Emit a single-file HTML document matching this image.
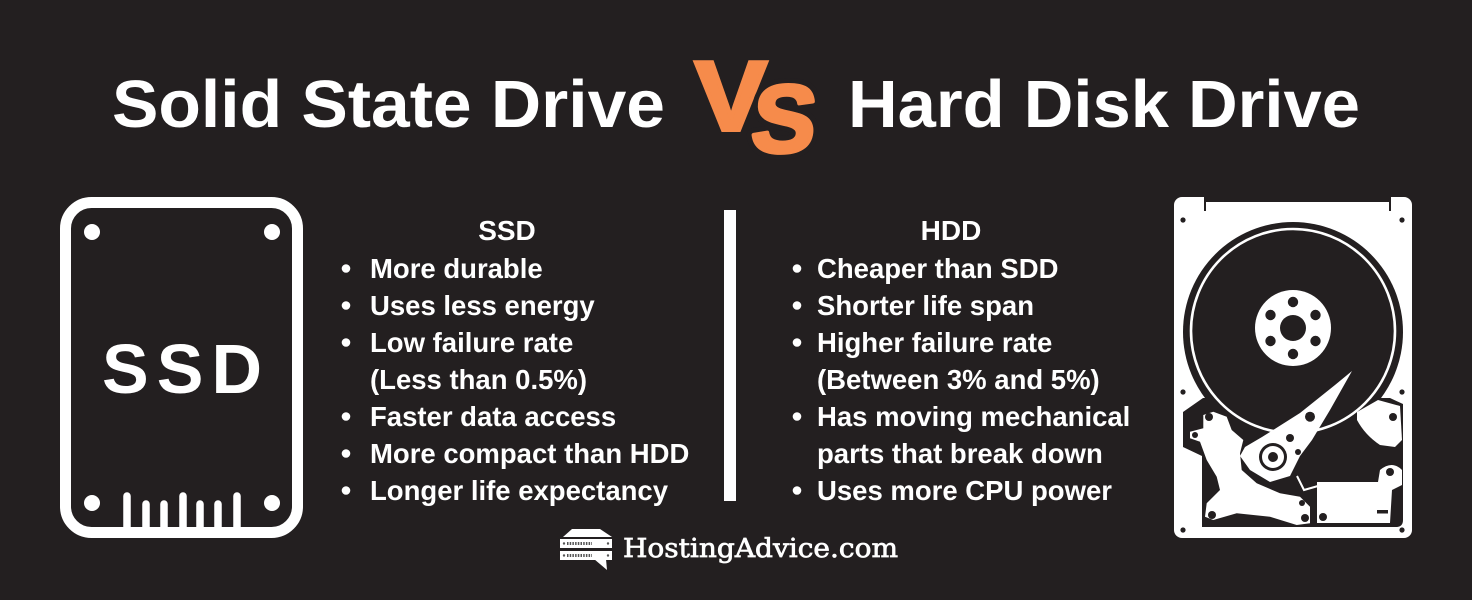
<!DOCTYPE html>
<html>
<head>
<meta charset="utf-8">
<style>
  html,body{margin:0;padding:0;background:#231f20;}
  svg{display:block;}
</style>
</head>
<body>
<svg width="1472" height="600" viewBox="0 0 1472 600" xmlns="http://www.w3.org/2000/svg">
  <rect x="0" y="0" width="1472" height="600" fill="#231f20"/>

  <!-- Title -->
  <text x="112" y="127" font-family="Liberation Sans, sans-serif" font-weight="bold" font-size="67" fill="#ffffff" textLength="553" lengthAdjust="spacingAndGlyphs">Solid State Drive</text>
  <text x="848" y="127" font-family="Liberation Sans, sans-serif" font-weight="bold" font-size="67" fill="#ffffff" textLength="512" lengthAdjust="spacingAndGlyphs">Hard Disk Drive</text>

  <!-- VS -->
  <g font-family="Liberation Sans, sans-serif" font-weight="bold">
    <text x="0" y="0" font-size="98" fill="#f68b4b" stroke="#f68b4b" stroke-width="4" transform="translate(695,130) scale(1.1,1)">V</text>
    <text x="0" y="0" font-size="96" fill="#231f20" stroke="#231f20" stroke-width="14" stroke-linejoin="round" transform="translate(749,152) skewX(-6)">S</text>
    <text x="0" y="0" font-size="96" fill="#f68b4b" stroke="#f68b4b" stroke-width="4" stroke-linejoin="round" transform="translate(749,152) skewX(-6)">S</text>
  </g>

  <!-- SSD icon -->
  <rect x="65.5" y="202.5" width="232" height="330" rx="26" ry="26" fill="none" stroke="#ffffff" stroke-width="11"/>
  <circle cx="92" cy="232" r="8" fill="#ffffff"/>
  <circle cx="272" cy="232" r="8" fill="#ffffff"/>
  <circle cx="92" cy="503" r="8" fill="#ffffff"/>
  <circle cx="272" cy="503" r="8" fill="#ffffff"/>
  <g stroke="#ffffff" stroke-width="7.5" stroke-linecap="round">
    <line x1="127" y1="496" x2="127" y2="530"/>
    <line x1="146" y1="504" x2="146" y2="530"/>
    <line x1="164" y1="504" x2="164" y2="530"/>
    <line x1="183" y1="496" x2="183" y2="530"/>
    <line x1="200" y1="504" x2="200" y2="530"/>
    <line x1="218" y1="504" x2="218" y2="530"/>
    <line x1="237" y1="496" x2="237" y2="530"/>
  </g>
  <text x="102" y="393" font-family="Liberation Sans, sans-serif" font-weight="bold" font-size="70" fill="#ffffff" textLength="160" lengthAdjust="spacing">SSD</text>

  <!-- Divider -->
  <rect x="724" y="210" width="12" height="291" fill="#ffffff"/>

  <!-- SSD list -->
  <g font-family="Liberation Sans, sans-serif" font-weight="bold" fill="#ffffff">
    <text x="507" y="240" font-size="28" text-anchor="middle">SSD</text>
    <g font-size="27.5">
      <text x="370" y="278">More durable</text>
      <text x="370" y="315">Uses less energy</text>
      <text x="370" y="352">Low failure rate</text>
      <text x="370" y="389">(Less than 0.5%)</text>
      <text x="370" y="426">Faster data access</text>
      <text x="370" y="463">More compact than HDD</text>
      <text x="370" y="500">Longer life expectancy</text>
    </g>
    <circle cx="346" cy="268.5" r="4.3"/>
    <circle cx="346" cy="305.5" r="4.3"/>
    <circle cx="346" cy="342.5" r="4.3"/>
    <circle cx="346" cy="416.5" r="4.3"/>
    <circle cx="346" cy="453.5" r="4.3"/>
    <circle cx="346" cy="490.5" r="4.3"/>
  </g>

  <!-- HDD list -->
  <g font-family="Liberation Sans, sans-serif" font-weight="bold" fill="#ffffff">
    <text x="951" y="240" font-size="28" text-anchor="middle">HDD</text>
    <g font-size="27.5">
      <text x="817" y="278">Cheaper than SDD</text>
      <text x="817" y="315">Shorter life span</text>
      <text x="817" y="352">Higher failure rate</text>
      <text x="817" y="389">(Between 3% and 5%)</text>
      <text x="817" y="426">Has moving mechanical</text>
      <text x="817" y="463">parts that break down</text>
      <text x="817" y="500">Uses more CPU power</text>
    </g>
    <circle cx="797" cy="268.5" r="4.3"/>
    <circle cx="797" cy="305.5" r="4.3"/>
    <circle cx="797" cy="342.5" r="4.3"/>
    <circle cx="797" cy="416.5" r="4.3"/>
    <circle cx="797" cy="490.5" r="4.3"/>
  </g>

  <!-- HDD icon -->
  <rect x="1174" y="197" width="238" height="341" rx="8" ry="8" fill="#ffffff"/>
  <rect x="1206" y="197" width="183" height="5" fill="#231f20"/>
  <rect x="1204" y="197" width="2" height="14" fill="#231f20"/>
  <rect x="1389" y="197" width="2" height="14" fill="#231f20"/>
  <g fill="#231f20">
    <circle cx="1183" cy="220" r="2.6"/>
    <circle cx="1402" cy="220" r="2.6"/>
    <circle cx="1183" cy="392" r="2.6"/>
    <circle cx="1402" cy="392" r="2.6"/>
    <circle cx="1183" cy="530" r="2.6"/>
    <circle cx="1402" cy="530" r="2.6"/>
    <circle cx="1293" cy="332" r="110"/>
    <path d="M1183,412 L1203,398 L1390,398 L1403,404 L1403,520 Q1403,527 1396,527 L1202,527 L1202,456 L1183,447 Z"/>
  </g>
  <circle cx="1293" cy="331" r="102" fill="none" stroke="#ffffff" stroke-width="2.6"/>
  <circle cx="1293" cy="328" r="38" fill="#ffffff"/>
  <g fill="#231f20">
    <circle cx="1293" cy="328" r="13"/>
    <circle cx="1293" cy="302" r="5.2"/>
    <circle cx="1315.5" cy="315" r="5.2"/>
    <circle cx="1315.5" cy="341" r="5.2"/>
    <circle cx="1293" cy="354" r="5.2"/>
    <circle cx="1270.5" cy="341" r="5.2"/>
    <circle cx="1270.5" cy="315" r="5.2"/>
  </g>
  <!-- left blob -->
  <path fill="#ffffff" d="M1190,431.7 L1203.3,428.3 L1203.3,415 L1213.3,411.7 L1226.7,416.7 L1231.7,430 L1243.3,440 L1240,453.3 L1241.7,470 L1256.7,483.3 L1280,493.3 L1300,496.7 L1310,506.7 L1310,523.3 L1296.7,525 L1270,516.7 L1236.7,513.3 L1213.3,520 L1205,516.7 L1206.7,503.3 L1220,490 L1216.7,476.7 L1206.7,460 L1200,441.7 L1190,438.3 Z"/>
  <!-- right upper white -->
  <path fill="#ffffff" d="M1357,412 L1378,400 L1400,406 L1402,440 L1395,447 L1380,445 Q1365,435 1357,420 Z"/>
  <!-- bottom right white -->
  <path fill="#ffffff" d="M1317,482 L1378,482 L1380,470 Q1392,460 1402,470 L1402,485 L1392,490 L1390,523 L1317,523 Z"/>
  <!-- actuator arm -->
  <path fill="#ffffff" d="M1352,371 L1335,385 L1300,413 L1262,437 L1245,447 L1240,456 L1250,470 L1270,482 L1290,476 L1300,456 L1312,440 L1330,410 Z"/>
  <circle cx="1273" cy="457" r="20" fill="#ffffff"/>
  <circle cx="1273" cy="457" r="14" fill="#231f20"/>
  <circle cx="1273" cy="457" r="11" fill="#ffffff"/>
  <circle cx="1273" cy="457" r="5" fill="#231f20"/>
  <polyline points="1297,476 1304,490 1318,486 1326,490" fill="none" stroke="#ffffff" stroke-width="2"/>
  <g fill="#231f20">
    <circle cx="1310" cy="416.7" r="5"/>
    <circle cx="1290" cy="438" r="4"/>
    <circle cx="1298" cy="452" r="3"/>
    <circle cx="1209" cy="417" r="4"/>
    <circle cx="1195" cy="435" r="3"/>
    <circle cx="1212" cy="515" r="4"/>
    <circle cx="1302" cy="503" r="3"/>
    <circle cx="1305" cy="518" r="4"/>
    <circle cx="1393" cy="417" r="4"/>
    <circle cx="1390" cy="472" r="4"/>
    <circle cx="1323" cy="517" r="4"/>
    <rect x="1377" y="510" width="11" height="3.5"/>
  </g>

  <!-- Footer logo -->
  <g>
    <path d="M572,529 L600,529 L612,537 L563,537 Z" fill="#ffffff"/>
    <rect x="560" y="539" width="52" height="9" fill="#ffffff"/>
    <rect x="560" y="551" width="52" height="9" fill="#ffffff"/>
    <path d="M594,559 L606,559 L607,570 Z" fill="#ffffff"/>
    <line x1="567" y1="543.5" x2="592" y2="543.5" stroke="#555" stroke-width="3" stroke-dasharray="1.5 1.2"/>
    <line x1="567" y1="555.5" x2="592" y2="555.5" stroke="#555" stroke-width="3" stroke-dasharray="1.5 1.2"/>
    <circle cx="564" cy="543.5" r="1.2" fill="#555"/>
    <circle cx="608" cy="543.5" r="1.2" fill="#555"/>
    <circle cx="564" cy="555.5" r="1.2" fill="#555"/>
    <circle cx="608" cy="555.5" r="1.2" fill="#555"/>
  </g>
  <text x="623" y="557" font-family="DejaVu Serif, Liberation Serif, serif" font-size="26" fill="#ffffff" stroke="#ffffff" stroke-width="0.7" textLength="275" lengthAdjust="spacingAndGlyphs">HostingAdvice.com</text>
</svg>
</body>
</html>
